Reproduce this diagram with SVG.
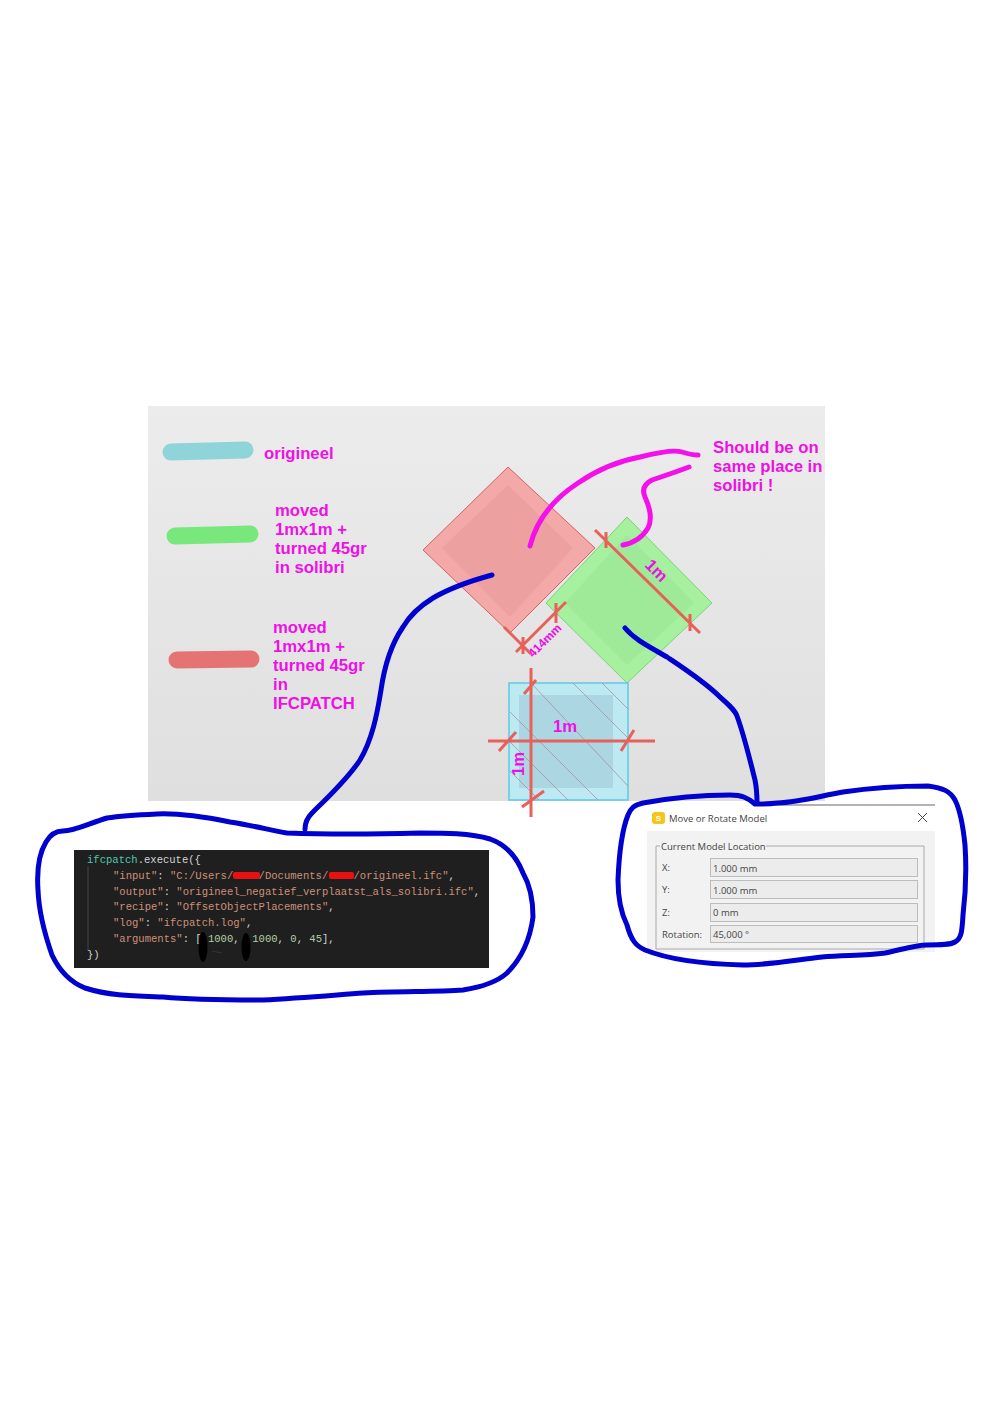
<svg xmlns="http://www.w3.org/2000/svg" width="991" height="1402" viewBox="0 0 991 1402">
<style>
.lbl{font:bold 16.7px "Liberation Sans",Arial,sans-serif;fill:#ee10e4}
.dim{stroke:#e8605a;stroke-width:3;fill:none}
.blue{stroke:#0000cf;stroke-width:5;fill:none;stroke-linecap:round;stroke-linejoin:round}
.mag{stroke:#f410ea;stroke-width:5;fill:none;stroke-linecap:round;stroke-linejoin:round}
.code{font:10.55px "Liberation Mono","DejaVu Sans Mono",monospace;fill:#ce9178;white-space:pre}
.ui{font:9.5px "Open Sans","Liberation Sans",sans-serif;fill:#444}
.fld{fill:#ececec;stroke:#bdbdbd;stroke-width:1}
.hatch{stroke:#a8949c;stroke-width:1;fill:none;opacity:.8}
</style>
<defs>
<linearGradient id="bg" x1="0" y1="0" x2="0" y2="1"><stop offset="0" stop-color="#ececec"/><stop offset="1" stop-color="#dfdfdf"/></linearGradient>
<clipPath id="cb"><rect x="509" y="683" width="119" height="117"/></clipPath>
</defs>
<rect width="991" height="1402" fill="#fff"/>
<rect x="148" y="406" width="677" height="395" fill="url(#bg)"/>

<g id="legend-original"><path d="M171 452 L245 450" stroke="#8fd4d8" stroke-width="17" stroke-linecap="round" fill="none"/><text class="lbl" x="264" y="459">origineel</text></g>
<g id="legend-solibri"><path d="M175 536 L250 534" stroke="#78e87c" stroke-width="17" stroke-linecap="round" fill="none"/>
<text class="lbl" x="275" y="516">moved</text><text class="lbl" x="275" y="535">1mx1m +</text><text class="lbl" x="275" y="554">turned 45gr</text><text class="lbl" x="275" y="573">in solibri</text></g>
<g id="legend-ifcpatch"><path d="M177 660 L251 659" stroke="#e57373" stroke-width="17" stroke-linecap="round" fill="none"/>
<text class="lbl" x="273" y="633">moved</text><text class="lbl" x="273" y="652">1mx1m +</text><text class="lbl" x="273" y="671">turned 45gr</text><text class="lbl" x="273" y="690">in</text><text class="lbl" x="273" y="709">IFCPATCH</text></g>

<g id="square-red">
<polygon points="508,467 595,548 510,633 423,550" fill="#f4a9a9" stroke="#d9605f" stroke-width="1"/>
<polygon points="508,485 573,548 510,617 442,548" fill="#e99c9c" opacity=".7"/>
</g>
<g id="square-green">
<polygon points="627,517 712,603 627,683 546,603" fill="#a6f0a0" stroke="#74d874" stroke-width="1"/>
<polygon points="627,535 694,603 627,665 565,603" fill="#9ce896" opacity=".8"/>
</g>
<g id="square-blue">
<rect x="509" y="683" width="119" height="117" fill="#bde9f2" stroke="#5cc9e4" stroke-width="1.5"/>
<rect x="519" y="695" width="94" height="93" fill="#abd6e2"/>
<g clip-path="url(#cb)" class="hatch">
<path d="M510 712 L598 800 M510 742 L568 800 M510 771 L539 800 M531 683 L628 786 M573 683 L628 738 M602 683 L628 709"/>
</g>
</g>

<g id="dimensions">
<path class="dim" d="M595 530 L700 633 M606 532 L606 548 M690 614 L690 631"/>
<path class="dim" d="M504 627 L531 654 M516 652 L566 602 M523 637 L523 654 M556 603 L556 623"/>
<path class="dim" d="M531 668 L531 817 M524 694 L536 680 M488 741 L655 741 M499 751 L516 732 M621 751 L634 730 M522 807 L544 791"/>
</g>
<g id="dimension-labels">
<text class="lbl" transform="translate(644 566) rotate(45)" x="0" y="0">1m</text>
<text x="0" y="0" transform="translate(533 658) rotate(-45)" style="font:bold 12px 'Liberation Sans',Arial,sans-serif;fill:#ee10e4">414mm</text>
<text class="lbl" x="553" y="732">1m</text>
<text class="lbl" transform="translate(524 776) rotate(-90)" x="0" y="0">1m</text>
</g>
<g id="note"><text class="lbl" x="713" y="453">Should be on</text><text class="lbl" x="713" y="472">same place in</text><text class="lbl" x="713" y="491">solibri !</text></g>

<g id="code-panel">
<rect x="74" y="850" width="415" height="118" fill="#1f1f1f"/>
<path d="M88 866 V950" stroke="#444" fill="none"/>
<text class="code" x="87" y="863" xml:space="preserve"><tspan fill="#4ec9b0">ifcpatch</tspan><tspan fill="#d4d4d4">.execute({</tspan></text>
<text class="code" x="113" y="879">"input"<tspan fill="#d4d4d4">: </tspan>"C:/Users/    /Documents/    /origineel.ifc"<tspan fill="#d4d4d4">,</tspan></text>
<text class="code" x="113" y="895">"output"<tspan fill="#d4d4d4">: </tspan>"origineel_negatief_verplaatst_als_solibri.ifc"<tspan fill="#d4d4d4">,</tspan></text>
<text class="code" x="113" y="910">"recipe"<tspan fill="#d4d4d4">: </tspan>"OffsetObjectPlacements"<tspan fill="#d4d4d4">,</tspan></text>
<text class="code" x="113" y="926">"log"<tspan fill="#d4d4d4">: </tspan>"ifcpatch.log"<tspan fill="#d4d4d4">,</tspan></text>
<text class="code" x="113" y="942">"arguments"<tspan fill="#d4d4d4">: [ </tspan><tspan fill="#b5cea8">1000</tspan><tspan fill="#d4d4d4">,  </tspan><tspan fill="#b5cea8">1000</tspan><tspan fill="#d4d4d4">, </tspan><tspan fill="#b5cea8">0</tspan><tspan fill="#d4d4d4">, </tspan><tspan fill="#b5cea8">45</tspan><tspan fill="#d4d4d4">],</tspan></text>
<text class="code" x="87" y="958" style="fill:#d4d4d4">})</text>
<ellipse cx="203" cy="947" rx="4.500" ry="15" fill="#000"/>
<ellipse cx="246" cy="947" rx="4.500" ry="14" fill="#000"/>
<path d="M212 951 L222 953" stroke="#333" fill="none"/>
<rect x="233" y="872" width="27" height="7" rx="2" fill="#e81010"/>
<rect x="329" y="872" width="25" height="7" rx="2" fill="#e81010"/>
</g>

<g id="dialog">
<rect x="640" y="805" width="296" height="147" fill="#fff"/>
<path d="M755 805 H935" stroke="#999" stroke-width="1.500" fill="none"/>
<rect x="647" y="831" width="288" height="121" fill="#f2f2f2"/>
<rect x="652" y="812" width="13" height="12" rx="3" fill="#f5c518"/>
<text x="658.500" y="821" text-anchor="middle" style="font:bold 8px 'Liberation Sans',sans-serif;fill:#fff">S</text>
<text class="ui" x="669" y="822">Move or Rotate Model</text>
<path d="M918 813 L927 822 M927 813 L918 822" stroke="#444" fill="none"/>
<path d="M660 846 H656 V949 H924 V846 H766" stroke="#a8a8a8" fill="none"/>
<text class="ui" x="661" y="850">Current Model Location</text>
<rect class="fld" x="710.500" y="858.500" width="207" height="18"/>
<rect class="fld" x="710.500" y="880.500" width="207" height="18"/>
<rect class="fld" x="710.500" y="903.500" width="207" height="18"/>
<rect class="fld" x="710.500" y="925.500" width="207" height="17"/>
<text class="ui" x="662" y="871">X:</text><text class="ui" x="713" y="872">1.000 mm</text>
<text class="ui" x="662" y="893">Y:</text><text class="ui" x="713" y="894">1.000 mm</text>
<text class="ui" x="662" y="916">Z:</text><text class="ui" x="713" y="916">0 mm</text>
<text class="ui" x="662" y="938">Rotation:</text><text class="ui" x="713" y="938">45,000 °</text>
</g>

<g id="connectors">
<path class="mag" d="M530 546 C536 522 552 500 578 483 C600 468 618 461 640 457 C660 452 676 450 682 452 C688 454 692 455 698 455"/>
<path class="mag" d="M689 467 C676 472 664 476 652 480 C644 484 642 490 645 497 C651 510 652 520 648 528 C642 538 634 543 623 545"/>
<path class="blue" d="M492 575 C470 581 450 588 433 598 C420 606 410 615 403 627 C392 643 385 662 381 690 C377 715 372 740 360 760 C347 780 325 800 312 813 C307 818 305 822 305 829"/>
<path class="blue" d="M625 628 C635 640 650 647 667 657 C685 669 705 682 720 697 C728 704 735 710 737 716 C744 735 750 760 755 780 C757 790 757 798 757 803"/>
<path class="blue" d="M287 833 C270 830 250 825 230 822 C205 817 180 813 157 814 C135 815 120 816 107 818 C90 823 75 831 63 831 C55 831 50 835 46 842 C38 855 37 875 38 890 C39 915 45 935 52 955 C60 972 70 982 85 988 C110 996 135 996 163 997 C195 1000 230 1000 263 1000 C300 998 335 995 363 993 C400 991 435 992 463 990 C482 987 497 982 507 973 C520 960 530 940 533 917 C533 900 530 885 523 873 C517 858 507 845 490 839 C470 833 445 833 420 833 C385 834 340 835 287 833 Z"/>
<path class="blue" d="M755 804 C748 798 742 795 730 795 C705 795 670 798 643 803 C634 805 631 808 628 815 C622 830 619 855 618 880 C618 900 622 915 627 925 C631 940 636 946 645 950 C665 958 700 964 743 965 C770 965 795 960 822 957 C845 955 865 956 885 953 C900 950 915 945 927 945 C940 945 950 945 955 942 C962 938 962 930 963 915 C966 890 966 860 965 845 C963 825 960 810 955 800 C950 791 943 788 928 786 C905 786 870 788 843 792 C820 796 800 802 777 803 C770 804 760 804 755 804 Z"/>
</g>
</svg>
